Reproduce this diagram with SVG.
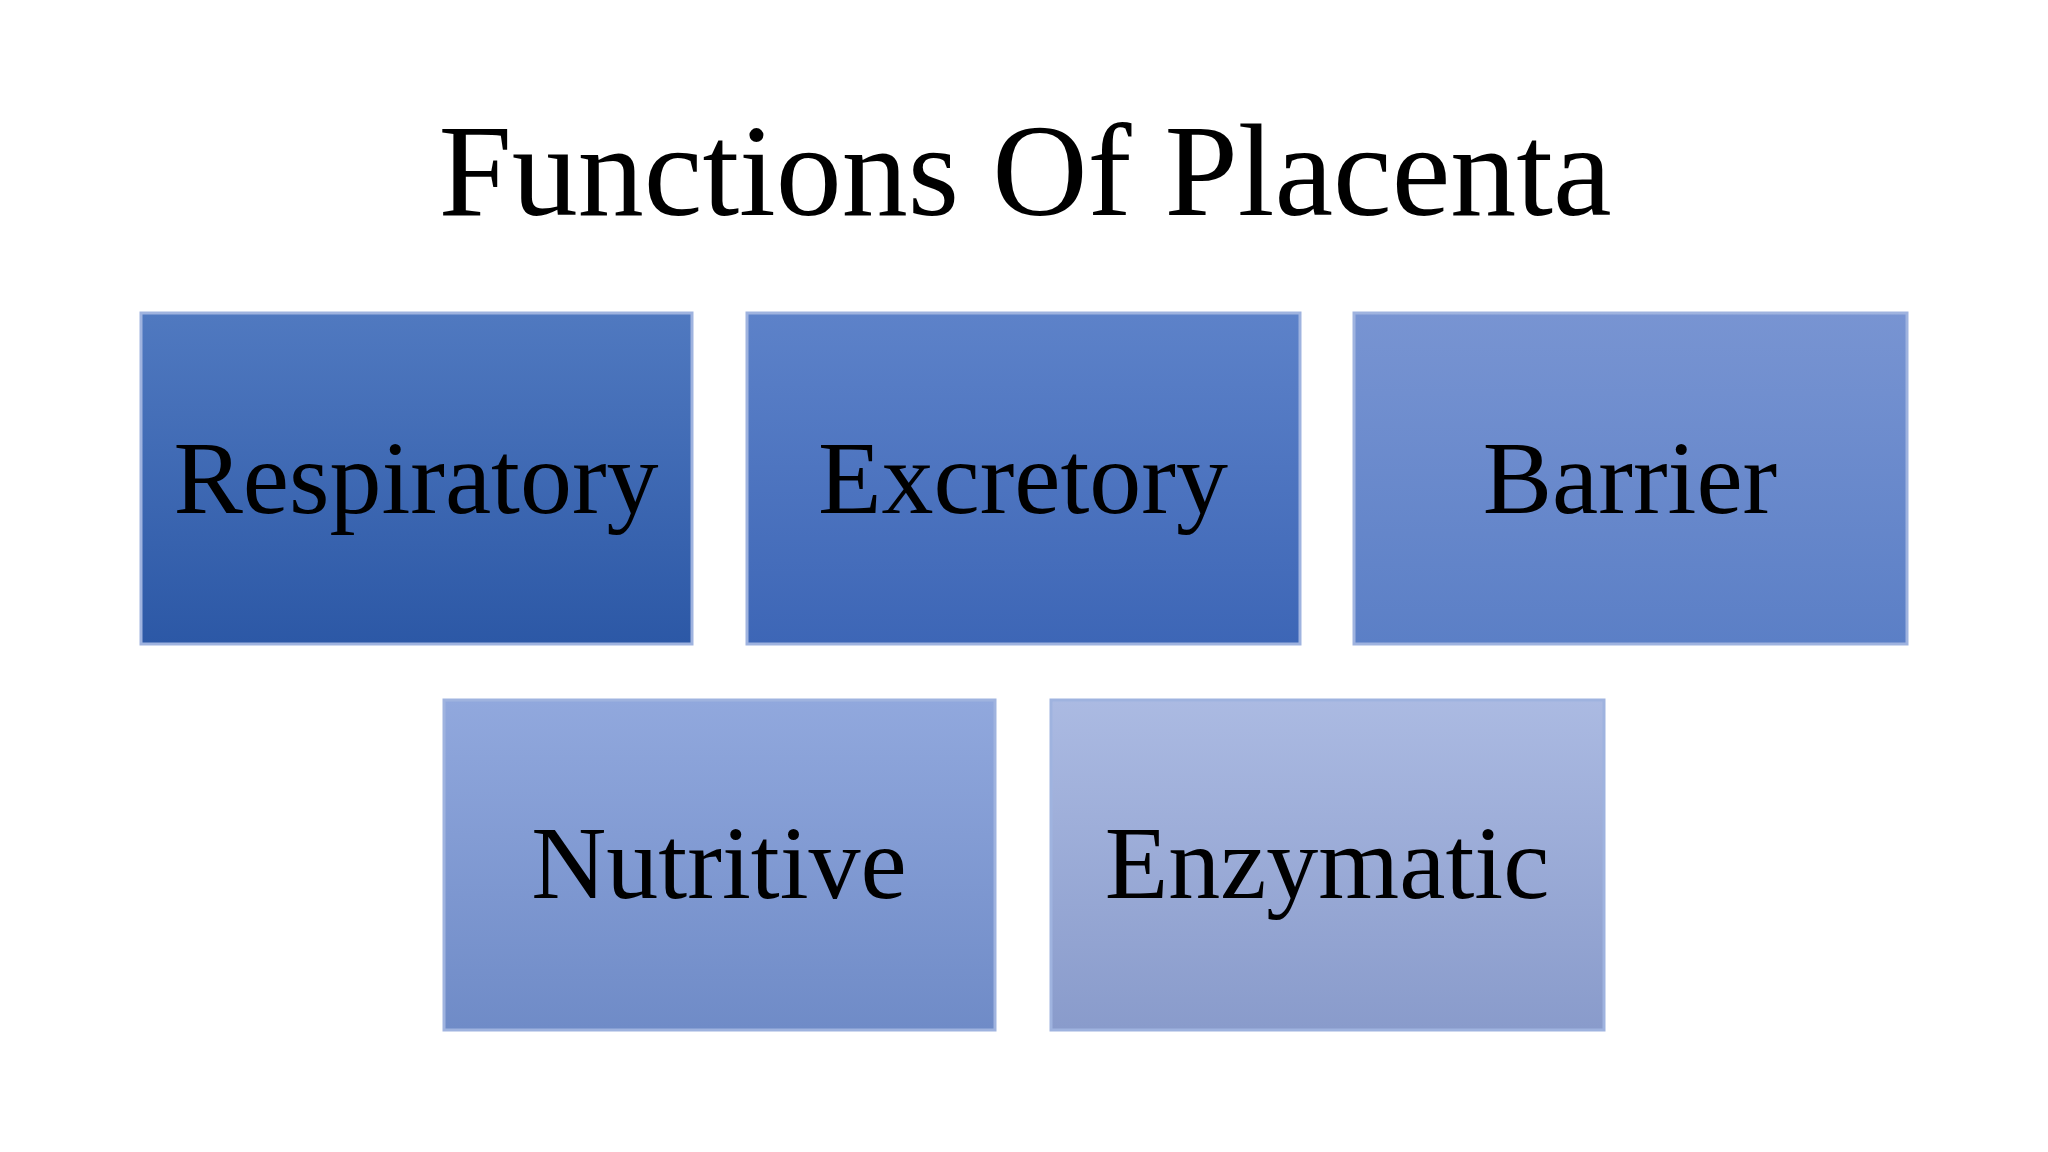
<svg xmlns="http://www.w3.org/2000/svg" width="2048" height="1152" viewBox="0 0 2048 1152">
<style>
.b{stroke:#9fb3df;stroke-width:3}
.t{font-family:"Liberation Serif",serif;font-size:104px;fill:#000;text-anchor:middle}
</style>
<defs>
<linearGradient id="g1" x1="0" y1="0" x2="0" y2="1"><stop offset="0" stop-color="#5079c0"/><stop offset="1" stop-color="#2c58a6"/></linearGradient>
<linearGradient id="g2" x1="0" y1="0" x2="0" y2="1"><stop offset="0" stop-color="#5d82c9"/><stop offset="1" stop-color="#3d66b6"/></linearGradient>
<linearGradient id="g3" x1="0" y1="0" x2="0" y2="1"><stop offset="0" stop-color="#7894d2"/><stop offset="1" stop-color="#5b7fc6"/></linearGradient>
<linearGradient id="g4" x1="0" y1="0" x2="0" y2="1"><stop offset="0" stop-color="#91a8dd"/><stop offset="1" stop-color="#6f8bc7"/></linearGradient>
<linearGradient id="g5" x1="0" y1="0" x2="0" y2="1"><stop offset="0" stop-color="#abbae2"/><stop offset="1" stop-color="#899bcb"/></linearGradient>
</defs>
<rect width="2048" height="1152" fill="#fff"/>
<text x="1025" y="215" font-family="Liberation Serif,serif" font-size="132" text-anchor="middle">Functions Of Placenta</text>
<g id="respiratory"><rect class="b" x="141" y="313" width="551" height="331" fill="url(#g1)"/><text class="t" x="416" y="513">Respiratory</text></g>
<g id="excretory"><rect class="b" x="747" y="313" width="553" height="331" fill="url(#g2)"/><text class="t" x="1023" y="513">Excretory</text></g>
<g id="barrier"><rect class="b" x="1354" y="313" width="553" height="331" fill="url(#g3)"/><text class="t" x="1630" y="513">Barrier</text></g>
<g id="nutritive"><rect class="b" x="444" y="700" width="551" height="330" fill="url(#g4)"/><text class="t" x="719" y="898">Nutritive</text></g>
<g id="enzymatic"><rect class="b" x="1051" y="700" width="553" height="330" fill="url(#g5)"/><text class="t" x="1327" y="898">Enzymatic</text></g>
<g id="connectors"/>
</svg>
